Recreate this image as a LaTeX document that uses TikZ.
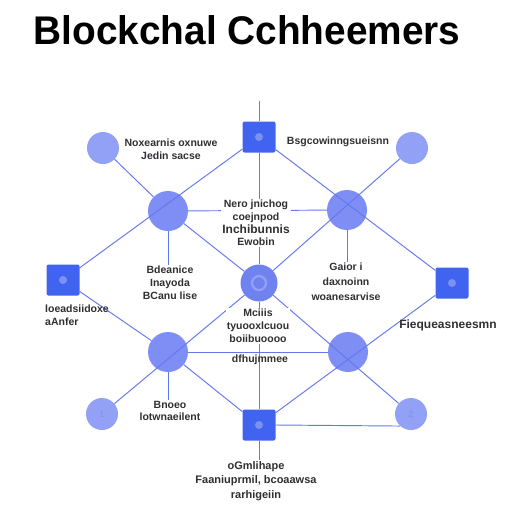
\documentclass[tikz,border=0pt]{standalone}
\usepackage{fontspec}
\setmainfont{Liberation Sans}

\definecolor{blockblue}{RGB}{64,100,240}
\definecolor{nodeblue}{RGB}{126,142,244}
\definecolor{paleblue}{RGB}{146,160,246}
\definecolor{hubblue}{RGB}{112,130,240}
\definecolor{linkblue}{RGB}{100,120,238}
\definecolor{ink}{RGB}{48,48,52}

\begin{document}
\begin{tikzpicture}[
  x=1pt,
  y=-1pt,
  block/.style={
    fill=blockblue,
    rounded corners=2pt,
    minimum width=33pt,
    minimum height=31pt,
    inner sep=0pt
  },
  big node/.style={
    circle,
    fill=nodeblue,
    minimum size=40pt,
    inner sep=0pt
  },
  small node/.style={
    circle,
    fill=paleblue,
    minimum size=32pt,
    inner sep=0pt
  },
  glyph/.style={
    circle,
    fill=white,
    fill opacity=.3,
    minimum size=8pt,
    inner sep=0pt
  },
  link/.style={
    draw=linkblue,
    line width=.95pt
  },
  note/.style={
    font=\bfseries\fontsize{10.5}{12.8}\selectfont,
    text=ink,
    align=center,
    inner sep=1pt
  },
]
\fill[white] (0,0) rectangle (512,512);
\useasboundingbox (0,0) rectangle (512,512);

\node[font=\bfseries\fontsize{40}{40}\selectfont, text=black] (title) at (247,30) {\scalebox{.97}[1]{Blockchal Cchheemers}};

\node[block] (top) at (259,137) {};
\node[block] (left) at (63,280) {};
\node[block] (right) at (452,283) {};
\node[block] (bottom) at (259,425) {};
\node[glyph] (top dot) at (top) {};
\node[glyph] (left dot) at (left) {};
\node[glyph] (right dot) at (right) {};
\node[glyph] (bottom dot) at (bottom) {};

\node[small node] (ntl) at (103,148) {};
\node[small node] (ntr) at (412,148) {};
\node[small node] (nbl) at (102,414) {\color{nodeblue}\small 1};
\node[small node] (nbr) at (411,414) {\color{nodeblue}\small 2};

\node[big node] (ul) at (168,211) {};
\node[big node] (ur) at (347,210) {};
\node[big node] (ll) at (168,352) {};
\node[big node] (lr) at (348,352) {};

\node[circle, fill=hubblue, minimum size=37pt, inner sep=0pt] (hub) at (259,283) {};
\node[circle, draw=paleblue, line width=2.2pt, minimum size=14pt, inner sep=0pt] (hub ring) at (hub) {};

\coordinate (peak) at (259,101);
\draw[link] (peak) -- (top);
\draw[link] (top) -- (hub);
\draw[link] (hub) -- (bottom);
\draw[link] (top) -- (left);
\draw[link] (top) -- (right);
\draw[link] (left) -- (ll);
\draw[link] (ll) -- (bottom);
\draw[link] (right) -- (bottom);
\draw[link] (ntl) -- (ul);
\draw[link] (ul) -- (hub);
\draw[link] (ntr) -- (hub);
\draw[link] (nbl) -- (hub);
\draw[link] (hub) -- (nbr);
\draw[link] (ul) -- (ur);
\draw[link] (ll) -- (lr);
\draw[link] (bottom.east) -- (nbr.228);

\node[note] (ntl note) at (171,149) {Noxearnis oxnuwe\\Jedin sacse};
\node[note] (ntr note) at (338,142) {Bsgcowinngsueisnn};
\node[note, fill=white] (mid note) at (256,223) {Nero jnichog\\coejnpod\\{\fontsize{12}{12.8}\selectfont Inchibunnis}\\Ewobin};
\node[note] (ul note) at (170,283) {Bdeanice\\Inayoda\\BCanu lise};
\node[note, font=\bfseries\fontsize{10.5}{15}\selectfont] (ur note) at (346,282) {Gaior i\\daxnoinn\\woanesarvise};
\node[note, align=left, anchor=north west] (left note) at (44,304) {loeadsiidoxe\\aAnfer};
\node[note, font=\bfseries\fontsize{12}{14}\selectfont] (right note) at (448,325) {Fiequeasneesmn};
\node[note, fill=white] (low note) at (258,326) {Mciiis\\tyuooxlcuou\\boiibuoooo};
\node[note] (hash note) at (260,360) {dfhujmmee};
\node[note] (ll note) at (170,411) {Bnoeo\\lotwnaeilent};
\node[note, font=\bfseries\fontsize{11}{14.5}\selectfont] (foot) at (256,481) {oGmlihape\\Faaniuprmil, bcoaawsa\\rarhigeiin};

\draw[link] (ul) -- (ul |- ul note.north);
\draw[link] (ur) -- (ur |- ur note.north);
\draw[link] (ll) -- (ll |- ll note.north);
\draw[link] (bottom) -- (bottom |- foot.north);
\end{tikzpicture}
\end{document}
